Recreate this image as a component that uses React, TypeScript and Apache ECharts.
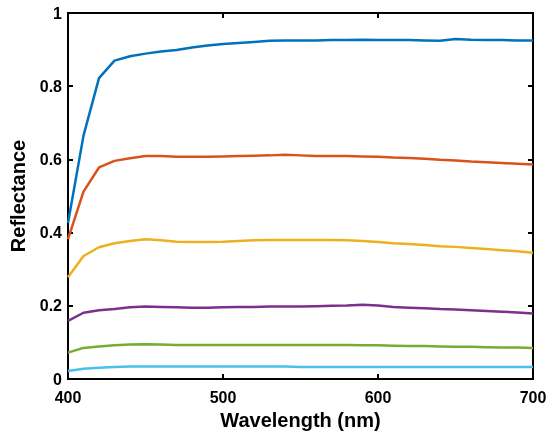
import React, { useEffect, useRef } from "react";
import * as echarts from "echarts";

const wavelengths = [400, 410, 420, 430, 440, 450, 460, 470, 480, 490, 500, 510, 520, 530, 540, 550, 560, 570, 580, 590, 600, 610, 620, 630, 640, 650, 660, 670, 680, 690, 700];

const blue = [0.426, 0.665, 0.822, 0.870, 0.882, 0.889, 0.895, 0.899, 0.906, 0.911, 0.915, 0.918, 0.921, 0.924, 0.925, 0.925, 0.925, 0.926, 0.926, 0.927, 0.926, 0.926, 0.926, 0.925, 0.924, 0.929, 0.927, 0.926, 0.926, 0.925, 0.925];
const orange = [0.382, 0.512, 0.578, 0.596, 0.603, 0.609, 0.609, 0.607, 0.607, 0.607, 0.608, 0.609, 0.610, 0.611, 0.613, 0.611, 0.609, 0.609, 0.609, 0.608, 0.607, 0.605, 0.604, 0.602, 0.599, 0.597, 0.594, 0.592, 0.590, 0.588, 0.586];
const yellow = [0.278, 0.336, 0.360, 0.371, 0.377, 0.382, 0.379, 0.375, 0.374, 0.374, 0.375, 0.377, 0.379, 0.380, 0.380, 0.380, 0.380, 0.380, 0.379, 0.377, 0.374, 0.371, 0.369, 0.366, 0.363, 0.361, 0.358, 0.355, 0.352, 0.349, 0.345];
const purple = [0.159, 0.181, 0.188, 0.191, 0.196, 0.198, 0.197, 0.196, 0.195, 0.195, 0.196, 0.197, 0.197, 0.198, 0.198, 0.198, 0.199, 0.200, 0.201, 0.203, 0.201, 0.197, 0.195, 0.193, 0.191, 0.190, 0.188, 0.186, 0.184, 0.182, 0.179];
const green = [0.072, 0.085, 0.089, 0.092, 0.094, 0.095, 0.094, 0.093, 0.093, 0.093, 0.093, 0.093, 0.093, 0.093, 0.093, 0.093, 0.093, 0.093, 0.093, 0.092, 0.092, 0.091, 0.090, 0.090, 0.089, 0.088, 0.088, 0.087, 0.086, 0.086, 0.085];
const cyan = [0.022, 0.028, 0.031, 0.033, 0.034, 0.034, 0.034, 0.034, 0.034, 0.034, 0.034, 0.034, 0.034, 0.034, 0.034, 0.033, 0.033, 0.033, 0.033, 0.033, 0.033, 0.033, 0.033, 0.033, 0.033, 0.033, 0.033, 0.033, 0.033, 0.033, 0.033];

const seriesList = [
  { name: "S1", values: blue, color: "#0072BD" },
  { name: "S2", values: orange, color: "#D95319" },
  { name: "S3", values: yellow, color: "#EDB120" },
  { name: "S4", values: purple, color: "#7E2F8E" },
  { name: "S5", values: green, color: "#77AC30" },
  { name: "S6", values: cyan, color: "#4DBEEE" },
];

const FONT = "'Liberation Sans', Arial, sans-serif";
const INK = "#000000";

const mkLine = () => ({ show: true, onZero: false, lineStyle: { color: INK, width: 2 } });
const mkTick = () => ({ show: true, inside: true, length: 5, lineStyle: { color: INK, width: 2 } });

export default function App() {
  const ref = useRef<HTMLDivElement>(null);
  useEffect(() => {
    if (!ref.current) return;
    const chart = echarts.init(ref.current, null, { renderer: "svg" });
    chart.setOption({
      animation: false,
      grid: {
        left: 67,
        right: 17,
        top: 13,
        bottom: 59,
        show: true,
        borderColor: INK,
        borderWidth: 2,
      },
      xAxis: [
        {
          type: "value",
          min: 400,
          max: 700,
          interval: 100,
          position: "bottom",
          name: "Wavelength (nm)",
          nameLocation: "middle",
          nameGap: 30,
          nameTextStyle: { fontFamily: FONT, fontWeight: "bold", fontSize: 20, color: "#000" },
          axisLine: mkLine(),
          axisTick: mkTick(),
          axisLabel: { margin: 10, fontFamily: FONT, fontWeight: "bold", fontSize: 16, color: "#000" },
          splitLine: { show: false },
        },
        {
          type: "value",
          min: 400,
          max: 700,
          interval: 100,
          position: "top",
          axisLine: mkLine(),
          axisTick: mkTick(),
          axisLabel: { show: false },
          splitLine: { show: false },
        },
      ],
      yAxis: [
        {
          type: "value",
          min: 0,
          max: 1,
          interval: 0.2,
          position: "left",
          name: "Reflectance",
          nameLocation: "middle",
          nameGap: 40,
          nameTextStyle: { fontFamily: FONT, fontWeight: "bold", fontSize: 20, color: "#000" },
          axisLine: mkLine(),
          axisTick: mkTick(),
          axisLabel: { margin: 6, fontFamily: FONT, fontWeight: "bold", fontSize: 16, color: "#000" },
          splitLine: { show: false },
        },
        {
          type: "value",
          min: 0,
          max: 1,
          interval: 0.2,
          position: "right",
          axisLine: mkLine(),
          axisTick: mkTick(),
          axisLabel: { show: false },
          splitLine: { show: false },
        },
      ],
      series: seriesList.map((s) => ({
        name: s.name,
        type: "line",
        xAxisIndex: 0,
        yAxisIndex: 0,
        showSymbol: false,
        symbol: "none",
        lineStyle: { color: s.color, width: 2.5 },
        itemStyle: { color: s.color },
        data: wavelengths.map((w, i) => [w, s.values[i]]),
      })),
    });
    return () => chart.dispose();
  }, []);
  return (
    <div
      ref={ref}
      style={{ position: "fixed", left: 0, top: 0, width: 550, height: 438 }}
    />
  );
}
